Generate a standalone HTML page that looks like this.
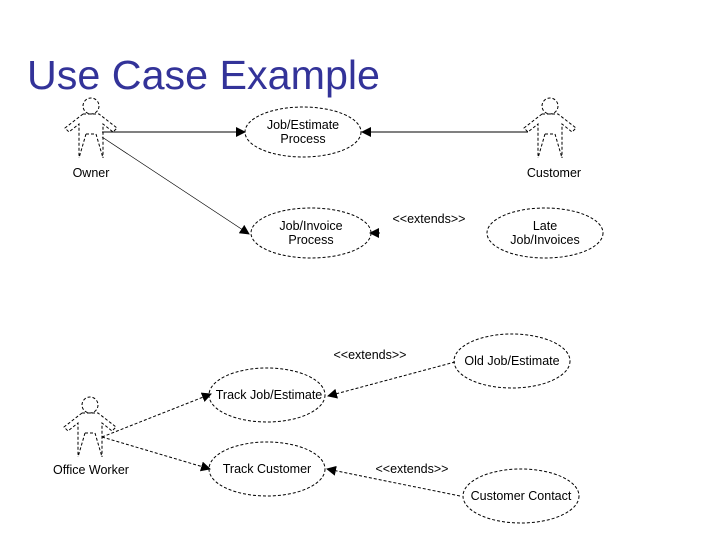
<!DOCTYPE html>
<html><head><style>body{margin:0;background:#fff}svg{display:block}</style></head><body>
<svg width="720" height="540" xmlns="http://www.w3.org/2000/svg" font-family="Liberation Sans, sans-serif">
<defs>
<marker id="a" markerWidth="10" markerHeight="10" refX="9" refY="5" orient="auto" markerUnits="userSpaceOnUse"><path d="M0,0 L10,5 L0,10 z" fill="#000"/></marker>
<g id="actor" fill="none" stroke="#000" stroke-width="1" stroke-dasharray="3,2">
<circle cx="0" cy="0" r="8"/>
<path d="M-8,8 L8,8 L26,22 L22,26 L12,18 L12,52 M-8,8 L-26,22 L-22,26 L-12,18 L-12,52 M-5,28 L-12,52 M5,28 L12,52 M-5,28 L5,28"/>
</g>
</defs>
<text x="27" y="89" font-size="41" fill="#333399" textLength="353" lengthAdjust="spacingAndGlyphs">Use Case Example</text>
<use href="#actor" x="91" y="106"/>
<use href="#actor" x="550" y="106"/>
<use href="#actor" x="90" y="405"/>
<g font-size="12.5" text-anchor="middle" fill="#000">
<text x="91" y="177">Owner</text>
<text x="554" y="177">Customer</text>
<text x="91" y="474">Office Worker</text>
</g>
<g fill="none" stroke="#000" stroke-dasharray="3,2">
<ellipse cx="303" cy="132" rx="58" ry="25"/>
<ellipse cx="311" cy="233" rx="60" ry="25"/>
<ellipse cx="545" cy="233" rx="58" ry="25"/>
<ellipse cx="267" cy="395" rx="58" ry="27"/>
<ellipse cx="267" cy="469" rx="58" ry="27"/>
<ellipse cx="512" cy="361" rx="58" ry="27"/>
<ellipse cx="521" cy="496" rx="58" ry="27"/>
</g>
<g stroke="#000" fill="none">
<line x1="102" y1="132" x2="245" y2="132" marker-end="url(#a)"/>
<line x1="528" y1="132" x2="362" y2="132" marker-end="url(#a)"/>
<line x1="102" y1="137" x2="249" y2="234" stroke-width="0.7" marker-end="url(#a)"/>
<line x1="380" y1="233" x2="370" y2="233" marker-end="url(#a)"/>
<g stroke-dasharray="3,2">
<line x1="102" y1="437" x2="211" y2="394" marker-end="url(#a)"/>
<line x1="102" y1="437" x2="210" y2="469" marker-end="url(#a)"/>
<line x1="455" y1="362" x2="328" y2="396" marker-end="url(#a)"/>
<line x1="460" y1="496" x2="327" y2="469" marker-end="url(#a)"/>
</g>
</g>
<g font-size="12.5" text-anchor="middle" fill="#000">
<text x="303" y="129">Job/Estimate</text><text x="303" y="143">Process</text>
<text x="311" y="230">Job/Invoice</text><text x="311" y="244">Process</text>
<text x="545" y="230">Late</text><text x="545" y="244">Job/Invoices</text>
<text x="429" y="223">&lt;&lt;extends&gt;&gt;</text>
<text x="269" y="399">Track Job/Estimate</text>
<text x="267" y="473">Track Customer</text>
<text x="512" y="365">Old Job/Estimate</text>
<text x="521" y="500">Customer Contact</text>
<text x="370" y="359">&lt;&lt;extends&gt;&gt;</text>
<text x="412" y="473">&lt;&lt;extends&gt;&gt;</text>
</g>
</svg>
</body></html>
